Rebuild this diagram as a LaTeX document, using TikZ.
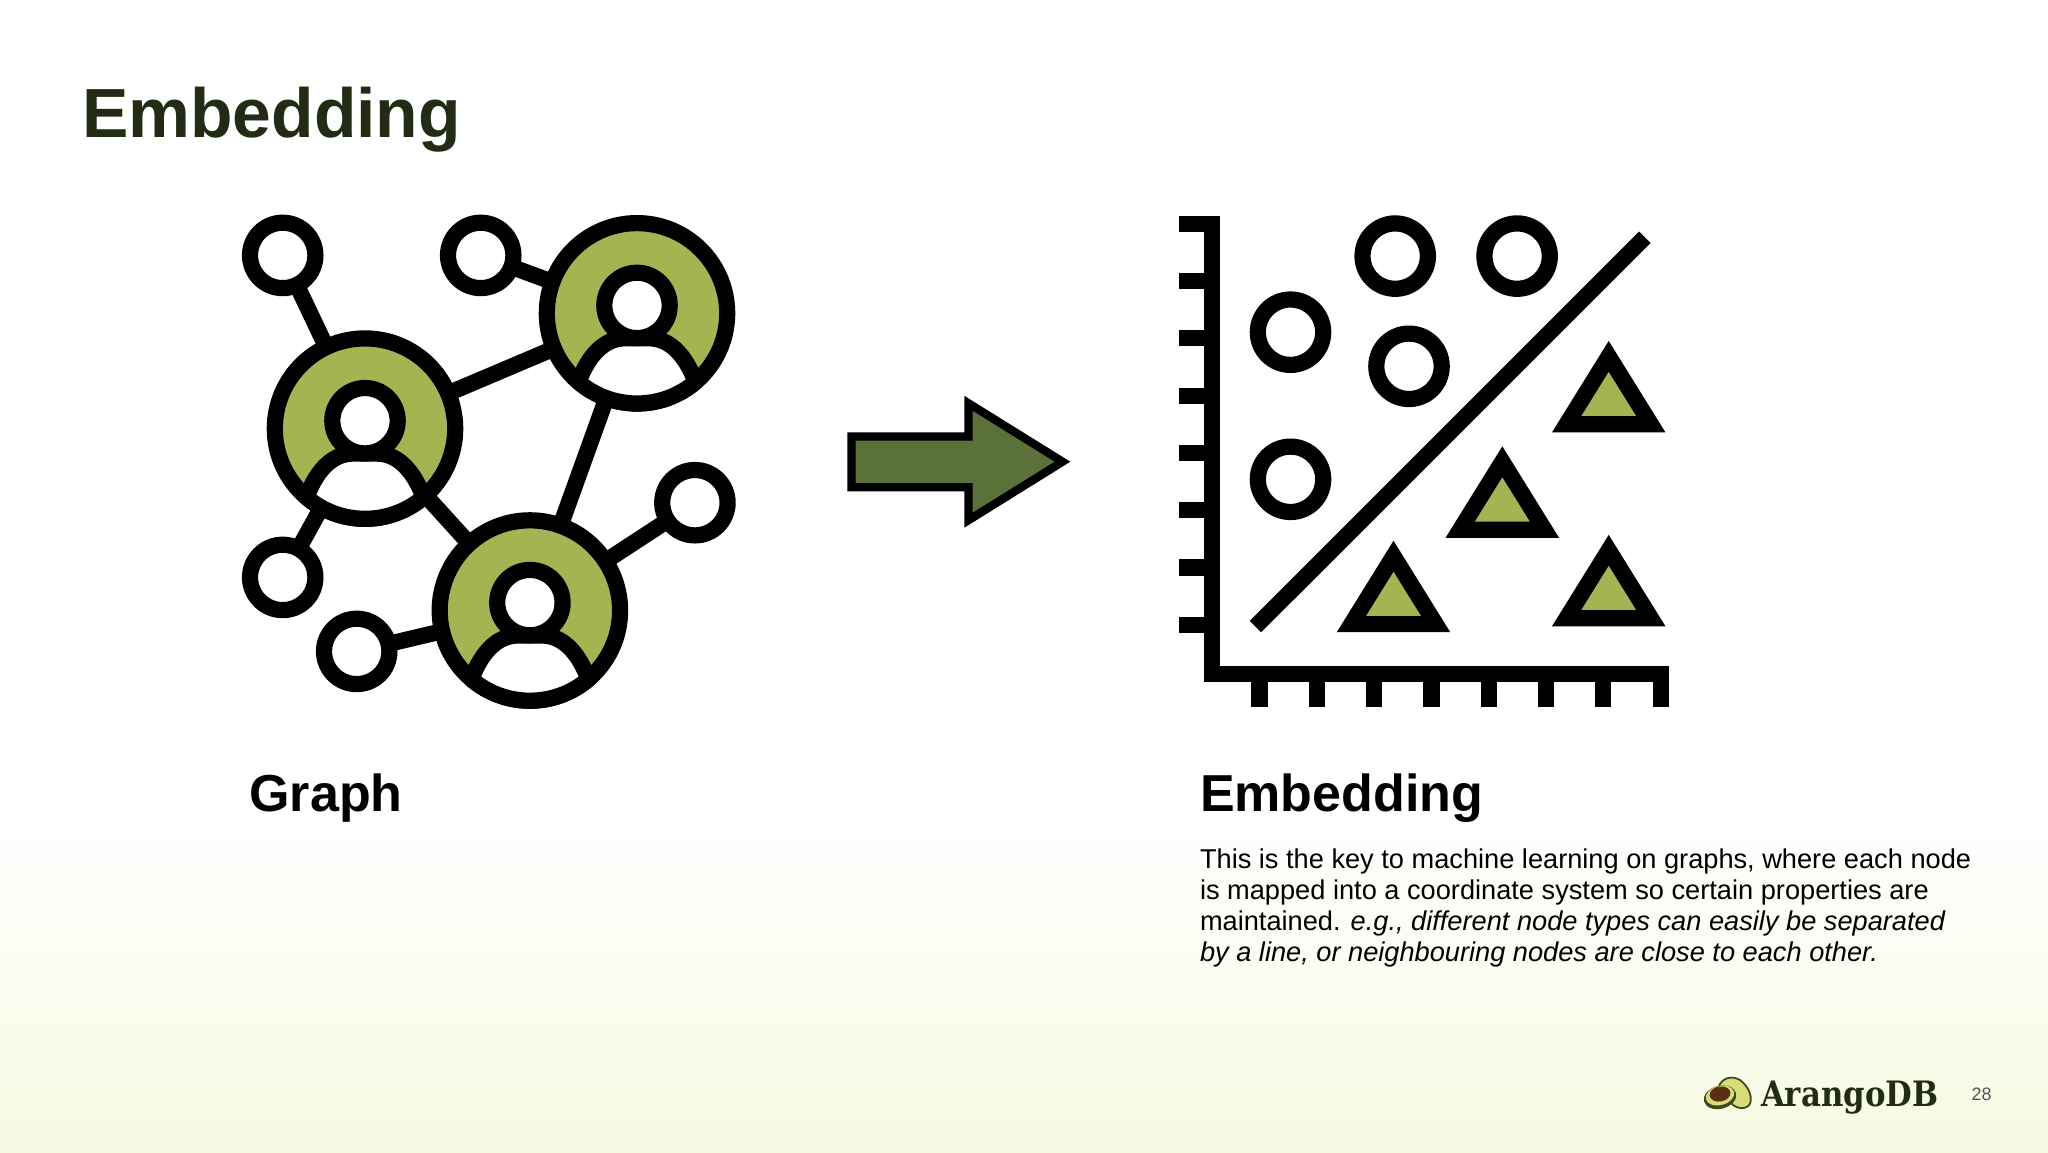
\documentclass[tikz,border=0pt]{standalone}
\usepackage{fontspec}
\setmainfont{Liberation Sans}
\newfontfamily\logofont{DejaVu Serif}
\definecolor{titlegreen}{HTML}{222C15}
\definecolor{fillgreen}{HTML}{A5B451}
\definecolor{arrowgreen}{HTML}{5A7139}
\definecolor{footgreen}{HTML}{F6FAE1}
\definecolor{numgrey}{HTML}{555555}
\definecolor{avolight}{HTML}{D6DC76}
\definecolor{avorim}{HTML}{3F4A1E}
\definecolor{avopit}{HTML}{5A2E12}
\tikzset{
  dotnode/.style={circle,draw=black,fill=white,line width=8.1pt,inner sep=0,outer sep=0,minimum size=32.7pt},
  bignode/.style={circle,draw=black,fill=fillgreen,line width=8.1pt,inner sep=0,outer sep=0,minimum size=90.2pt},
  linkline/.style={draw=black,line width=8.1pt},
  axisline/.style={draw=black,line width=8.1pt,line join=miter},
  textlabel/.style={anchor=base west,inner sep=0,outer sep=0},
  person/.pic={
    \draw[fill=white,line width=8.1pt,line join=round] (-12,25) -- (12,25)
      .. controls (30,25) and (47,38) .. (58.6,68.6)
      arc[start angle=49.5,end angle=130.5,radius=90.2]
      .. controls (-47,38) and (-30,25) .. cycle;
    \node[dotnode] (head) at (0,-7.9) {};
  }
}
\begin{document}
\begin{tikzpicture}[x=0.5pt,y=-0.5pt]
  \useasboundingbox (0,0) rectangle (2048,1152);
  % Background
  \fill[white] (0,0) rectangle (2048,825);
  \shade[top color=white,bottom color=footgreen] (0,820) rectangle (2048,1152);

  % Title and labels
  \node[textlabel,text=titlegreen] (title) at (82,137) {\fontsize{34.8pt}{40pt}\selectfont\bfseries Embedding};
  \node[textlabel,text=black] (graphlabel) at (249.5,811) {\fontsize{26pt}{30pt}\selectfont\bfseries Graph};
  \node[textlabel,text=black] (embedlabel) at (1200,811) {\fontsize{26pt}{30pt}\selectfont\bfseries Embedding};
  \node[textlabel,anchor=north west,align=left,text=black,font=\fontsize{13.6pt}{15.4pt}\selectfont] (bodytext) at (1200,849)
    {This is the key to machine learning on graphs, where each node\\
     is mapped into a coordinate system so certain properties are\\
     maintained. \textit{e.g., different node types can easily be separated}\\
     \textit{by a line, or neighbouring nodes are close to each other.}};

  % Graph
  \foreach \n/\x/\y in {c1/282.7/255.4,c2/480.7/255.4,c3/282.7/577.4,c4/356.7/651.4,c5/694.9/502.7}
    \node[dotnode] (\n) at (\x,\y) {};
  \foreach \n/\x/\y in {b1/365/428.6,b2/637/313.3,b3/529.9/610.5}
  {
    \node[bignode] (\n) at (\x,\y) {};
    \pic (u\n) at (\n) {person};
  }
  \foreach \a/\b in {c1/b1,c2/b2,c3/b1,c4/b3,c5/b3,b1/b2,b1/b3,b2/b3}
    \draw[linkline] (\a) -- (\b);

  % Arrow
  \draw[fill=arrowgreen,line width=4.15pt,line join=miter] (851.5,436.5) -- (968.5,436.5) -- (968.5,403.3)
    -- (1062.5,461.7) -- (968.5,520.2) -- (968.5,487.2) -- (851.5,487.2) -- cycle;

  % Axes and ticks
  \draw[axisline] (1211.8,215.5) -- (1211.8,673.6) -- (1669,673.6);
  \foreach \i in {0,...,7}
  {
    \draw[axisline] (1178.9,{223.7+57.3*\i}) -- (1212,{223.7+57.3*\i});
    \draw[axisline] ({1259.5+57.3*\i},673.6) -- ({1259.5+57.3*\i},706.5);
  }

  % Points above the line
  \foreach \n/\x/\y in {p1/1395.2/256.1,p2/1517.1/256.1,p3/1290.5/332.2,p4/1409/366.3,p5/1290.5/479.3}
    \node[dotnode] (\n) at (\x,\y) {};
  \coordinate (lineA) at (1255.4,626.6);
  \coordinate (lineB) at (1644.9,237.2);
  \draw[linkline] (lineA) -- (lineB);

  % Triangles below the line
  \foreach \x/\y in {1608.7/424.3,1502.3/529.7,1393.5/624.1,1608.7/618.2}
    \draw[fill=fillgreen,line width=8.1pt,line join=miter] (\x-42.2,\y) -- (\x,\y-68) -- (\x+42.2,\y) -- cycle;

  % Logo
  \draw[fill=avolight,draw=avorim,line width=.9pt] (1719,1086) .. controls (1722,1078) and (1732,1075) .. (1740,1080)
    .. controls (1748,1086) and (1752,1095) .. (1750.5,1102) .. controls (1749,1109) and (1740,1110) .. (1733,1105) -- cycle;
  \fill[avorim,rotate around={15:(1720,1097.3)}] (1720,1097.3) ellipse (16.5 and 11.5);
  \fill[avolight,rotate around={15:(1720,1095.5)}] (1720,1095.5) ellipse (14.5 and 9.5);
  \fill[avopit,rotate around={10:(1720,1094)}] (1720,1094) ellipse (10.5 and 7.5);
  \node[textlabel,text=titlegreen,xscale=.88,transform shape] (logotext) at (1761,1106.7) {\logofont\fontsize{17.5pt}{20pt}\selectfont\bfseries ArangoDB};
  \node[textlabel,text=numgrey] (pagenum) at (1971.7,1100.7) {\fontsize{9pt}{10pt}\selectfont 28};
\end{tikzpicture}
\end{document}
